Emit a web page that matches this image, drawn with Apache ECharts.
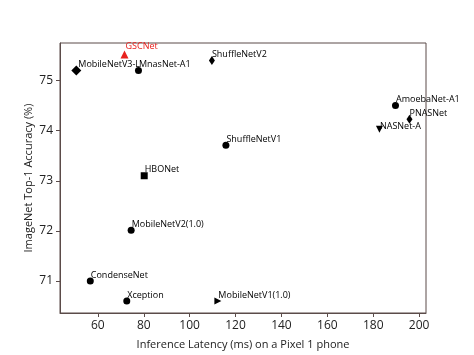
<!DOCTYPE html>
<html>
<head>
<meta charset="utf-8">
<script src="https://cdn.jsdelivr.net/npm/echarts@6/dist/echarts.min.js"></script>
<style>
  html, body { margin: 0; padding: 0; background: #fff; }
  #main { width: 474px; height: 355px; }
</style>
</head>
<body>
<div id="main"></div>
<script>
// models
var names = ['GSCNet', 'MobileNetV3-L', 'MnasNet-A1', 'ShuffleNetV2', 'ShuffleNetV1',
  'AmoebaNet-A1', 'PNASNet', 'NASNet-A', 'HBONet', 'MobileNetV2(1.0)',
  'CondenseNet', 'Xception', 'MobileNetV1(1.0)'];
var latency = [71.6, 50.6, 77.7, 109.7, 115.8, 189.7, 195.8, 182.7, 80.2, 74.5, 56.7, 72.6, 112.3];
var accuracy = [75.52, 75.2, 75.2, 75.4, 73.71, 74.5, 74.23, 74.03, 73.1, 72.01, 71.0, 70.6, 70.6];
var shapes = ['triangle', 'diamond', 'circle', 'diamond', 'circle',
  'circle', 'diamond', 'triangle', 'rect', 'circle',
  'circle', 'circle', 'triangle'];
var xTicks = [60, 80, 100, 120, 140, 160, 180, 200];
var yTicks = [71, 72, 73, 74, 75];

var frame = '#5b4b49';
var font = 'Open Sans';

var data = [];
for (var i = 0; i < names.length; i++) {
  var item = {
    name: names[i],
    value: [latency[i], accuracy[i]],
    symbol: shapes[i],
    symbolSize: 7
  };
  if (names[i] == 'GSCNet') {
    item.itemStyle = { color: '#e8211d' };
    item.label = { color: '#e8211d', offset: [-3, -8] };
    item.symbolSize = 8;
  }
  if (names[i] == 'MobileNetV3-L') { item.symbolSize = 10; }
  if (names[i] == 'ShuffleNetV2' || names[i] == 'PNASNet') { item.symbolSize = [6, 9]; }
  if (names[i] == 'NASNet-A') { item.symbolRotate = 180; item.label = { offset: [-3, -3] }; }
  if (names[i] == 'MobileNetV1(1.0)') { item.symbolRotate = -90; }
  data.push(item);
}

var chart = echarts.init(document.getElementById('main'));
chart.setOption({
  animation: false,
  grid: {
    show: true,
    left: 60, top: 43, right: 48, bottom: 40,
    borderColor: frame,
    borderWidth: 1
  },
  xAxis: {
    type: 'value',
    min: 43.5, max: 203,
    name: 'Inference Latency (ms) on a Pixel 1 phone',
    nameLocation: 'middle',
    nameGap: 26,
    nameTextStyle: { fontFamily: font, fontSize: 11, color: '#222' },
    axisLine: { lineStyle: { color: frame } },
    axisTick: { length: 4, lineStyle: { color: frame }, customValues: xTicks },
    axisLabel: { fontFamily: font, fontSize: 12, color: '#222', margin: 7, customValues: xTicks },
    splitLine: { show: false }
  },
  yAxis: {
    type: 'value',
    min: 70.36, max: 75.75,
    name: 'ImageNet Top-1 Accuracy (%)',
    nameLocation: 'middle',
    nameGap: 26,
    nameMoveOverlap: false,
    nameTextStyle: { fontFamily: font, fontSize: 11, color: '#222' },
    axisLine: { lineStyle: { color: frame } },
    axisTick: { length: 4, lineStyle: { color: frame }, customValues: yTicks },
    axisLabel: { fontFamily: font, fontSize: 12, color: '#222', margin: 7, customValues: yTicks },
    splitLine: { show: false }
  },
  series: [{
    type: 'scatter',
    data: data,
    itemStyle: { color: '#000', opacity: 1 },
    label: {
      show: true,
      position: 'right',
      distance: 0,
      offset: [-3, -6],
      formatter: '{b}',
      fontFamily: font,
      fontSize: 9,
      color: '#000'
    }
  }]
});
</script>
</body>
</html>
